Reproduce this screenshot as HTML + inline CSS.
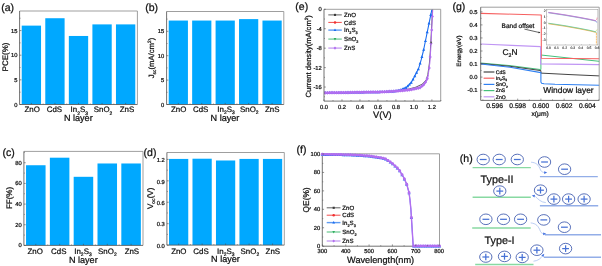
<!DOCTYPE html><html><head><meta charset="utf-8"><style>html,body{margin:0;padding:0;background:#fff}svg{display:block;filter:blur(0.35px)}</style></head><body><svg width="602" height="266" viewBox="0 0 602 266" font-family="'Liberation Sans', sans-serif" text-rendering="geometricPrecision">
<rect width="602" height="266" fill="#fff"/>
<rect x="21.72" y="25.62" width="19.32" height="78.88" fill="#00a8ff"/>
<text x="32.13" y="112.4" font-size="7.9" text-anchor="middle" fill="#111111" stroke="#111111" stroke-width="0.24">ZnO</text>
<line x1="31.38" y1="104.5" x2="31.38" y2="102.9" stroke="#4a4a4a" stroke-width="0.6"/>
<line x1="43.16" y1="104.5" x2="43.16" y2="103.5" stroke="#4a4a4a" stroke-width="0.5"/>
<rect x="45.28" y="18.23" width="19.32" height="86.27" fill="#00a8ff"/>
<text x="54.44" y="112.4" font-size="7.9" text-anchor="middle" fill="#111111" stroke="#111111" stroke-width="0.24">CdS</text>
<line x1="54.94" y1="104.5" x2="54.94" y2="102.9" stroke="#4a4a4a" stroke-width="0.6"/>
<line x1="66.72" y1="104.5" x2="66.72" y2="103.5" stroke="#4a4a4a" stroke-width="0.5"/>
<rect x="68.84" y="35.97" width="19.32" height="68.53" fill="#00a8ff"/>
<text x="79.3" y="112.4" font-size="7.9" text-anchor="middle" fill="#111111" stroke="#111111" stroke-width="0.24">In<tspan dy="2.21" font-size="4.90">2</tspan><tspan dy="-2.21" font-size="0.40"> </tspan>S<tspan dy="2.21" font-size="4.90">3</tspan><tspan dy="-2.21" font-size="0.40"> </tspan></text>
<line x1="78.50" y1="104.5" x2="78.50" y2="102.9" stroke="#4a4a4a" stroke-width="0.6"/>
<line x1="90.28" y1="104.5" x2="90.28" y2="103.5" stroke="#4a4a4a" stroke-width="0.5"/>
<rect x="92.40" y="24.39" width="19.32" height="80.11" fill="#00a8ff"/>
<text x="103.06" y="112.4" font-size="7.9" text-anchor="middle" fill="#111111" stroke="#111111" stroke-width="0.24">SnO<tspan dy="2.21" font-size="4.90">2</tspan><tspan dy="-2.21" font-size="0.40"> </tspan></text>
<line x1="102.06" y1="104.5" x2="102.06" y2="102.9" stroke="#4a4a4a" stroke-width="0.6"/>
<line x1="113.84" y1="104.5" x2="113.84" y2="103.5" stroke="#4a4a4a" stroke-width="0.5"/>
<rect x="115.96" y="24.39" width="19.32" height="80.11" fill="#00a8ff"/>
<text x="127.02" y="112.4" font-size="7.9" text-anchor="middle" fill="#111111" stroke="#111111" stroke-width="0.24">ZnS</text>
<line x1="125.62" y1="104.5" x2="125.62" y2="102.9" stroke="#4a4a4a" stroke-width="0.6"/>
<polyline points="19.6,11.0 137.4,11.0 137.4,104.5" fill="none" stroke="#8e8e8e" stroke-width="0.85"/>
<polyline points="19.6,11.0 19.6,104.5 137.4,104.5" fill="none" stroke="#585858" stroke-width="0.85"/>
<line x1="19.6" y1="104.50" x2="21.400000000000002" y2="104.50" stroke="#4a4a4a" stroke-width="0.6"/>
<text x="17.4" y="106.5" font-size="5.8" text-anchor="end" fill="#111111" stroke="#111111" stroke-width="0.24">0</text>
<line x1="19.6" y1="79.85" x2="21.400000000000002" y2="79.85" stroke="#4a4a4a" stroke-width="0.6"/>
<text x="17.4" y="81.85" font-size="5.8" text-anchor="end" fill="#111111" stroke="#111111" stroke-width="0.24">5</text>
<line x1="19.6" y1="55.20" x2="21.400000000000002" y2="55.20" stroke="#4a4a4a" stroke-width="0.6"/>
<text x="17.4" y="57.2" font-size="5.8" text-anchor="end" fill="#111111" stroke="#111111" stroke-width="0.24">10</text>
<line x1="19.6" y1="30.55" x2="21.400000000000002" y2="30.55" stroke="#4a4a4a" stroke-width="0.6"/>
<text x="17.4" y="32.55" font-size="5.8" text-anchor="end" fill="#111111" stroke="#111111" stroke-width="0.24">15</text>
<line x1="19.6" y1="92.17" x2="20.6" y2="92.17" stroke="#4a4a4a" stroke-width="0.5"/>
<line x1="19.6" y1="67.53" x2="20.6" y2="67.53" stroke="#4a4a4a" stroke-width="0.5"/>
<line x1="19.6" y1="42.88" x2="20.6" y2="42.88" stroke="#4a4a4a" stroke-width="0.5"/>
<line x1="19.6" y1="18.23" x2="20.6" y2="18.23" stroke="#4a4a4a" stroke-width="0.5"/>
<text x="78.3" y="121.3" font-size="9.1" text-anchor="middle" fill="#111111" stroke="#111111" stroke-width="0.24">N layer</text>
<text x="7.8" y="57" font-size="8.0" text-anchor="middle" fill="#111111" stroke="#111111" stroke-width="0.24" transform="rotate(-90 7.8 57)">PCE(%)</text>
<text x="1.2" y="10.8" font-size="10.5" text-anchor="start" fill="#111111" stroke="#111111" stroke-width="0.24">(a)</text>
<rect x="168.71" y="20.56" width="19.22" height="83.94" fill="#00a8ff"/>
<text x="178.72" y="112.0" font-size="7.9" text-anchor="middle" fill="#111111" stroke="#111111" stroke-width="0.24">ZnO</text>
<line x1="178.32" y1="104.5" x2="178.32" y2="102.9" stroke="#4a4a4a" stroke-width="0.6"/>
<line x1="190.04" y1="104.5" x2="190.04" y2="103.5" stroke="#4a4a4a" stroke-width="0.5"/>
<rect x="192.15" y="20.56" width="19.22" height="83.94" fill="#00a8ff"/>
<text x="200.66" y="112.0" font-size="7.9" text-anchor="middle" fill="#111111" stroke="#111111" stroke-width="0.24">CdS</text>
<line x1="201.76" y1="104.5" x2="201.76" y2="102.9" stroke="#4a4a4a" stroke-width="0.6"/>
<line x1="213.48" y1="104.5" x2="213.48" y2="103.5" stroke="#4a4a4a" stroke-width="0.5"/>
<rect x="215.59" y="20.56" width="19.22" height="83.94" fill="#00a8ff"/>
<text x="226.0" y="112.0" font-size="7.9" text-anchor="middle" fill="#111111" stroke="#111111" stroke-width="0.24">In<tspan dy="2.21" font-size="4.90">2</tspan><tspan dy="-2.21" font-size="0.40"> </tspan>S<tspan dy="2.21" font-size="4.90">3</tspan><tspan dy="-2.21" font-size="0.40"> </tspan></text>
<line x1="225.20" y1="104.5" x2="225.20" y2="102.9" stroke="#4a4a4a" stroke-width="0.6"/>
<line x1="236.92" y1="104.5" x2="236.92" y2="103.5" stroke="#4a4a4a" stroke-width="0.5"/>
<rect x="239.03" y="19.10" width="19.22" height="85.40" fill="#00a8ff"/>
<text x="249.34" y="112.0" font-size="7.9" text-anchor="middle" fill="#111111" stroke="#111111" stroke-width="0.24">SnO<tspan dy="2.21" font-size="4.90">2</tspan><tspan dy="-2.21" font-size="0.40"> </tspan></text>
<line x1="248.64" y1="104.5" x2="248.64" y2="102.9" stroke="#4a4a4a" stroke-width="0.6"/>
<line x1="260.36" y1="104.5" x2="260.36" y2="103.5" stroke="#4a4a4a" stroke-width="0.5"/>
<rect x="262.47" y="20.56" width="19.22" height="83.94" fill="#00a8ff"/>
<text x="272.28" y="112.0" font-size="7.9" text-anchor="middle" fill="#111111" stroke="#111111" stroke-width="0.24">ZnS</text>
<line x1="272.08" y1="104.5" x2="272.08" y2="102.9" stroke="#4a4a4a" stroke-width="0.6"/>
<polyline points="166.6,11.5 283.8,11.5 283.8,104.5" fill="none" stroke="#8e8e8e" stroke-width="0.85"/>
<polyline points="166.6,11.5 166.6,104.5 283.8,104.5" fill="none" stroke="#585858" stroke-width="0.85"/>
<line x1="166.6" y1="104.50" x2="168.4" y2="104.50" stroke="#4a4a4a" stroke-width="0.6"/>
<text x="164.2" y="106.5" font-size="5.8" text-anchor="end" fill="#111111" stroke="#111111" stroke-width="0.24">0</text>
<line x1="166.6" y1="80.10" x2="168.4" y2="80.10" stroke="#4a4a4a" stroke-width="0.6"/>
<text x="164.2" y="82.1" font-size="5.8" text-anchor="end" fill="#111111" stroke="#111111" stroke-width="0.24">5</text>
<line x1="166.6" y1="55.70" x2="168.4" y2="55.70" stroke="#4a4a4a" stroke-width="0.6"/>
<text x="164.2" y="57.7" font-size="5.8" text-anchor="end" fill="#111111" stroke="#111111" stroke-width="0.24">10</text>
<line x1="166.6" y1="31.30" x2="168.4" y2="31.30" stroke="#4a4a4a" stroke-width="0.6"/>
<text x="164.2" y="33.3" font-size="5.8" text-anchor="end" fill="#111111" stroke="#111111" stroke-width="0.24">15</text>
<line x1="166.6" y1="92.30" x2="167.6" y2="92.30" stroke="#4a4a4a" stroke-width="0.5"/>
<line x1="166.6" y1="67.90" x2="167.6" y2="67.90" stroke="#4a4a4a" stroke-width="0.5"/>
<line x1="166.6" y1="43.50" x2="167.6" y2="43.50" stroke="#4a4a4a" stroke-width="0.5"/>
<line x1="166.6" y1="19.10" x2="167.6" y2="19.10" stroke="#4a4a4a" stroke-width="0.5"/>
<text x="225" y="120.9" font-size="9.1" text-anchor="middle" fill="#111111" stroke="#111111" stroke-width="0.24">N layer</text>
<text x="153.9" y="58" font-size="7.7" text-anchor="middle" fill="#111111" stroke="#111111" stroke-width="0.24" transform="rotate(-90 153.9 58)">J<tspan dy="2.16" font-size="4.77">sc</tspan><tspan dy="-2.16" font-size="0.39"> </tspan>(mA/cm<tspan dy="-2.93" font-size="4.77">2</tspan><tspan dy="2.93" font-size="0.39"> </tspan>)</text>
<text x="145.2" y="11.0" font-size="10.5" text-anchor="start" fill="#111111" stroke="#111111" stroke-width="0.24">(b)</text>
<rect x="26.04" y="165.24" width="19.53" height="80.16" fill="#00a8ff"/>
<text x="35.21" y="254.1" font-size="7.9" text-anchor="middle" fill="#111111" stroke="#111111" stroke-width="0.24">ZnO</text>
<line x1="35.81" y1="245.4" x2="35.81" y2="243.8" stroke="#4a4a4a" stroke-width="0.6"/>
<line x1="47.72" y1="245.4" x2="47.72" y2="244.4" stroke="#4a4a4a" stroke-width="0.5"/>
<rect x="49.86" y="157.70" width="19.53" height="87.70" fill="#00a8ff"/>
<text x="58.73" y="254.1" font-size="7.9" text-anchor="middle" fill="#111111" stroke="#111111" stroke-width="0.24">CdS</text>
<line x1="59.63" y1="245.4" x2="59.63" y2="243.8" stroke="#4a4a4a" stroke-width="0.6"/>
<line x1="71.54" y1="245.4" x2="71.54" y2="244.4" stroke="#4a4a4a" stroke-width="0.5"/>
<rect x="73.68" y="176.81" width="19.53" height="68.59" fill="#00a8ff"/>
<text x="82.95" y="254.1" font-size="7.9" text-anchor="middle" fill="#111111" stroke="#111111" stroke-width="0.24">In<tspan dy="2.21" font-size="4.90">2</tspan><tspan dy="-2.21" font-size="0.40"> </tspan>S<tspan dy="2.21" font-size="4.90">3</tspan><tspan dy="-2.21" font-size="0.40"> </tspan></text>
<line x1="83.45" y1="245.4" x2="83.45" y2="243.8" stroke="#4a4a4a" stroke-width="0.6"/>
<line x1="95.36" y1="245.4" x2="95.36" y2="244.4" stroke="#4a4a4a" stroke-width="0.5"/>
<rect x="97.50" y="163.48" width="19.53" height="81.92" fill="#00a8ff"/>
<text x="107.37" y="254.1" font-size="7.9" text-anchor="middle" fill="#111111" stroke="#111111" stroke-width="0.24">SnO<tspan dy="2.21" font-size="4.90">2</tspan><tspan dy="-2.21" font-size="0.40"> </tspan></text>
<line x1="107.27" y1="245.4" x2="107.27" y2="243.8" stroke="#4a4a4a" stroke-width="0.6"/>
<line x1="119.18" y1="245.4" x2="119.18" y2="244.4" stroke="#4a4a4a" stroke-width="0.5"/>
<rect x="121.32" y="163.48" width="19.53" height="81.92" fill="#00a8ff"/>
<text x="131.89" y="254.1" font-size="7.9" text-anchor="middle" fill="#111111" stroke="#111111" stroke-width="0.24">ZnS</text>
<line x1="131.09" y1="245.4" x2="131.09" y2="243.8" stroke="#4a4a4a" stroke-width="0.6"/>
<polyline points="23.9,151.4 143.0,151.4 143.0,245.4" fill="none" stroke="#8e8e8e" stroke-width="0.85"/>
<polyline points="23.9,151.4 23.9,245.4 143.0,245.4" fill="none" stroke="#585858" stroke-width="0.85"/>
<line x1="23.9" y1="245.40" x2="25.7" y2="245.40" stroke="#4a4a4a" stroke-width="0.6"/>
<text x="21.8" y="247.4" font-size="5.8" text-anchor="end" fill="#111111" stroke="#111111" stroke-width="0.24">0</text>
<line x1="23.9" y1="224.74" x2="25.7" y2="224.74" stroke="#4a4a4a" stroke-width="0.6"/>
<text x="21.8" y="226.74" font-size="5.8" text-anchor="end" fill="#111111" stroke="#111111" stroke-width="0.24">20</text>
<line x1="23.9" y1="204.08" x2="25.7" y2="204.08" stroke="#4a4a4a" stroke-width="0.6"/>
<text x="21.8" y="206.08" font-size="5.8" text-anchor="end" fill="#111111" stroke="#111111" stroke-width="0.24">40</text>
<line x1="23.9" y1="183.42" x2="25.7" y2="183.42" stroke="#4a4a4a" stroke-width="0.6"/>
<text x="21.8" y="185.42" font-size="5.8" text-anchor="end" fill="#111111" stroke="#111111" stroke-width="0.24">60</text>
<line x1="23.9" y1="162.76" x2="25.7" y2="162.76" stroke="#4a4a4a" stroke-width="0.6"/>
<text x="21.8" y="164.76" font-size="5.8" text-anchor="end" fill="#111111" stroke="#111111" stroke-width="0.24">80</text>
<line x1="23.9" y1="235.07" x2="24.9" y2="235.07" stroke="#4a4a4a" stroke-width="0.5"/>
<line x1="23.9" y1="214.41" x2="24.9" y2="214.41" stroke="#4a4a4a" stroke-width="0.5"/>
<line x1="23.9" y1="193.75" x2="24.9" y2="193.75" stroke="#4a4a4a" stroke-width="0.5"/>
<line x1="23.9" y1="173.09" x2="24.9" y2="173.09" stroke="#4a4a4a" stroke-width="0.5"/>
<line x1="23.9" y1="152.43" x2="24.9" y2="152.43" stroke="#4a4a4a" stroke-width="0.5"/>
<text x="83.3" y="262.8" font-size="9.1" text-anchor="middle" fill="#111111" stroke="#111111" stroke-width="0.24">N layer</text>
<text x="11.9" y="198" font-size="8.0" text-anchor="middle" fill="#111111" stroke="#111111" stroke-width="0.24" transform="rotate(-90 11.9 198)">FF(%)</text>
<text x="2.4" y="155.6" font-size="10.5" text-anchor="start" fill="#111111" stroke="#111111" stroke-width="0.24">(c)</text>
<rect x="169.01" y="158.92" width="19.25" height="86.18" fill="#00a8ff"/>
<text x="178.84" y="254.0" font-size="7.9" text-anchor="middle" fill="#111111" stroke="#111111" stroke-width="0.24">ZnO</text>
<line x1="178.64" y1="245.1" x2="178.64" y2="243.5" stroke="#4a4a4a" stroke-width="0.6"/>
<line x1="190.38" y1="245.1" x2="190.38" y2="244.1" stroke="#4a4a4a" stroke-width="0.5"/>
<rect x="192.49" y="158.71" width="19.25" height="86.39" fill="#00a8ff"/>
<text x="201.02" y="254.0" font-size="7.9" text-anchor="middle" fill="#111111" stroke="#111111" stroke-width="0.24">CdS</text>
<line x1="202.12" y1="245.1" x2="202.12" y2="243.5" stroke="#4a4a4a" stroke-width="0.6"/>
<line x1="213.86" y1="245.1" x2="213.86" y2="244.1" stroke="#4a4a4a" stroke-width="0.5"/>
<rect x="215.97" y="160.49" width="19.25" height="84.61" fill="#00a8ff"/>
<text x="225.8" y="254.0" font-size="7.9" text-anchor="middle" fill="#111111" stroke="#111111" stroke-width="0.24">In<tspan dy="2.21" font-size="4.90">2</tspan><tspan dy="-2.21" font-size="0.40"> </tspan>S<tspan dy="2.21" font-size="4.90">3</tspan><tspan dy="-2.21" font-size="0.40"> </tspan></text>
<line x1="225.60" y1="245.1" x2="225.60" y2="243.5" stroke="#4a4a4a" stroke-width="0.6"/>
<line x1="237.34" y1="245.1" x2="237.34" y2="244.1" stroke="#4a4a4a" stroke-width="0.5"/>
<rect x="239.45" y="158.92" width="19.25" height="86.18" fill="#00a8ff"/>
<text x="249.88" y="254.0" font-size="7.9" text-anchor="middle" fill="#111111" stroke="#111111" stroke-width="0.24">SnO<tspan dy="2.21" font-size="4.90">2</tspan><tspan dy="-2.21" font-size="0.40"> </tspan></text>
<line x1="249.08" y1="245.1" x2="249.08" y2="243.5" stroke="#4a4a4a" stroke-width="0.6"/>
<line x1="260.82" y1="245.1" x2="260.82" y2="244.1" stroke="#4a4a4a" stroke-width="0.5"/>
<rect x="262.93" y="158.92" width="19.25" height="86.18" fill="#00a8ff"/>
<text x="272.86" y="254.0" font-size="7.9" text-anchor="middle" fill="#111111" stroke="#111111" stroke-width="0.24">ZnS</text>
<line x1="272.56" y1="245.1" x2="272.56" y2="243.5" stroke="#4a4a4a" stroke-width="0.6"/>
<polyline points="166.9,152.5 284.3,152.5 284.3,245.1" fill="none" stroke="#8e8e8e" stroke-width="0.85"/>
<polyline points="166.9,152.5 166.9,245.1 284.3,245.1" fill="none" stroke="#585858" stroke-width="0.85"/>
<line x1="166.9" y1="245.10" x2="168.70000000000002" y2="245.10" stroke="#4a4a4a" stroke-width="0.6"/>
<text x="164.8" y="247.8" font-size="5.8" text-anchor="end" fill="#111111" stroke="#111111" stroke-width="0.24">0.0</text>
<line x1="166.9" y1="223.68" x2="168.70000000000002" y2="223.68" stroke="#4a4a4a" stroke-width="0.6"/>
<text x="164.8" y="226.38" font-size="5.8" text-anchor="end" fill="#111111" stroke="#111111" stroke-width="0.24">0.3</text>
<line x1="166.9" y1="202.26" x2="168.70000000000002" y2="202.26" stroke="#4a4a4a" stroke-width="0.6"/>
<text x="164.8" y="204.96" font-size="5.8" text-anchor="end" fill="#111111" stroke="#111111" stroke-width="0.24">0.6</text>
<line x1="166.9" y1="180.84" x2="168.70000000000002" y2="180.84" stroke="#4a4a4a" stroke-width="0.6"/>
<text x="164.8" y="183.54" font-size="5.8" text-anchor="end" fill="#111111" stroke="#111111" stroke-width="0.24">0.9</text>
<line x1="166.9" y1="159.42" x2="168.70000000000002" y2="159.42" stroke="#4a4a4a" stroke-width="0.6"/>
<text x="164.8" y="162.12" font-size="5.8" text-anchor="end" fill="#111111" stroke="#111111" stroke-width="0.24">1.2</text>
<line x1="166.9" y1="234.39" x2="167.9" y2="234.39" stroke="#4a4a4a" stroke-width="0.5"/>
<line x1="166.9" y1="212.97" x2="167.9" y2="212.97" stroke="#4a4a4a" stroke-width="0.5"/>
<line x1="166.9" y1="191.55" x2="167.9" y2="191.55" stroke="#4a4a4a" stroke-width="0.5"/>
<line x1="166.9" y1="170.13" x2="167.9" y2="170.13" stroke="#4a4a4a" stroke-width="0.5"/>
<text x="225.5" y="262.1" font-size="9.1" text-anchor="middle" fill="#111111" stroke="#111111" stroke-width="0.24">N layer</text>
<text x="153.0" y="198.3" font-size="8.0" text-anchor="middle" fill="#111111" stroke="#111111" stroke-width="0.24" transform="rotate(-90 153.0 198.3)">V<tspan dy="2.24" font-size="4.96">oc</tspan><tspan dy="-2.24" font-size="0.40"> </tspan>(V)</text>
<text x="143.6" y="155.5" font-size="10.5" text-anchor="start" fill="#111111" stroke="#111111" stroke-width="0.24">(d)</text>
<text x="295.3" y="9.6" font-size="10.5" text-anchor="start" fill="#111111" stroke="#111111" stroke-width="0.24">(e)</text>
<clipPath id="ce"><rect x="324.0" y="9.3" width="116.69999999999999" height="91.8"/></clipPath>
<g clip-path="url(#ce)">
<polyline points="324.00,92.80 350.00,92.50 380.00,92.00 395.00,91.20 406.30,89.60 411.30,88.40 415.80,87.20 422.50,84.00 426.30,79.60 427.80,74.60 429.40,63.20 430.40,50.00 432.55,9.40" fill="none" stroke="#3a3a3a" stroke-width="0.8" stroke-linejoin="round" />
<polyline points="324.00,92.80 350.00,92.50 380.00,92.00 395.00,91.20 400.60,89.90 406.30,87.60 411.00,82.90 414.70,76.30 418.50,68.80 421.30,59.40 423.60,50.00 431.90,9.40" fill="none" stroke="#1a6cf0" stroke-width="1.1" stroke-linejoin="round" />
<polygon points="324.00,91.12 322.46,93.92 325.54,93.92" fill="#1a6cf0"/>
<polygon points="325.78,91.10 324.24,93.90 327.32,93.90" fill="#1a6cf0"/>
<polygon points="327.56,91.08 326.02,93.88 329.10,93.88" fill="#1a6cf0"/>
<polygon points="329.34,91.06 327.80,93.86 330.88,93.86" fill="#1a6cf0"/>
<polygon points="331.12,91.04 329.58,93.84 332.66,93.84" fill="#1a6cf0"/>
<polygon points="332.90,91.02 331.36,93.82 334.44,93.82" fill="#1a6cf0"/>
<polygon points="334.68,91.00 333.14,93.80 336.22,93.80" fill="#1a6cf0"/>
<polygon points="336.46,90.98 334.92,93.78 338.00,93.78" fill="#1a6cf0"/>
<polygon points="338.24,90.96 336.70,93.76 339.78,93.76" fill="#1a6cf0"/>
<polygon points="340.02,90.94 338.48,93.74 341.56,93.74" fill="#1a6cf0"/>
<polygon points="341.80,90.91 340.26,93.71 343.34,93.71" fill="#1a6cf0"/>
<polygon points="343.58,90.89 342.04,93.69 345.12,93.69" fill="#1a6cf0"/>
<polygon points="345.36,90.87 343.82,93.67 346.90,93.67" fill="#1a6cf0"/>
<polygon points="347.14,90.85 345.60,93.65 348.68,93.65" fill="#1a6cf0"/>
<polygon points="348.92,90.83 347.38,93.63 350.46,93.63" fill="#1a6cf0"/>
<polygon points="350.70,90.81 349.16,93.61 352.24,93.61" fill="#1a6cf0"/>
<polygon points="352.48,90.78 350.94,93.58 354.02,93.58" fill="#1a6cf0"/>
<polygon points="354.26,90.75 352.72,93.55 355.80,93.55" fill="#1a6cf0"/>
<polygon points="356.04,90.72 354.50,93.52 357.58,93.52" fill="#1a6cf0"/>
<polygon points="357.82,90.69 356.28,93.49 359.36,93.49" fill="#1a6cf0"/>
<polygon points="359.60,90.66 358.06,93.46 361.14,93.46" fill="#1a6cf0"/>
<polygon points="361.38,90.63 359.84,93.43 362.92,93.43" fill="#1a6cf0"/>
<polygon points="363.16,90.60 361.62,93.40 364.70,93.40" fill="#1a6cf0"/>
<polygon points="364.94,90.57 363.40,93.37 366.48,93.37" fill="#1a6cf0"/>
<polygon points="366.72,90.54 365.18,93.34 368.26,93.34" fill="#1a6cf0"/>
<polygon points="368.50,90.51 366.96,93.31 370.04,93.31" fill="#1a6cf0"/>
<polygon points="370.28,90.48 368.74,93.28 371.82,93.28" fill="#1a6cf0"/>
<polygon points="372.06,90.45 370.52,93.25 373.60,93.25" fill="#1a6cf0"/>
<polygon points="373.84,90.42 372.30,93.22 375.38,93.22" fill="#1a6cf0"/>
<polygon points="375.62,90.39 374.08,93.19 377.16,93.19" fill="#1a6cf0"/>
<polygon points="377.40,90.36 375.86,93.16 378.94,93.16" fill="#1a6cf0"/>
<polygon points="379.18,90.33 377.64,93.13 380.72,93.13" fill="#1a6cf0"/>
<polygon points="380.96,90.27 379.42,93.07 382.50,93.07" fill="#1a6cf0"/>
<polygon points="382.74,90.17 381.20,92.97 384.28,92.97" fill="#1a6cf0"/>
<polygon points="384.52,90.08 382.98,92.88 386.06,92.88" fill="#1a6cf0"/>
<polygon points="386.30,89.98 384.76,92.78 387.84,92.78" fill="#1a6cf0"/>
<polygon points="388.08,89.89 386.54,92.69 389.62,92.69" fill="#1a6cf0"/>
<polygon points="389.86,89.79 388.32,92.59 391.40,92.59" fill="#1a6cf0"/>
<polygon points="391.64,89.70 390.10,92.50 393.18,92.50" fill="#1a6cf0"/>
<polygon points="393.42,89.60 391.88,92.40 394.96,92.40" fill="#1a6cf0"/>
<polygon points="395.20,89.47 393.66,92.27 396.74,92.27" fill="#1a6cf0"/>
<polygon points="396.98,89.06 395.44,91.86 398.52,91.86" fill="#1a6cf0"/>
<polygon points="398.76,88.65 397.22,91.45 400.30,91.45" fill="#1a6cf0"/>
<polygon points="400.54,88.23 399.00,91.03 402.08,91.03" fill="#1a6cf0"/>
<polygon points="402.32,87.53 400.78,90.33 403.86,90.33" fill="#1a6cf0"/>
<polygon points="404.10,86.81 402.56,89.61 405.64,89.61" fill="#1a6cf0"/>
<polygon points="405.88,86.09 404.34,88.89 407.42,88.89" fill="#1a6cf0"/>
<polygon points="407.66,84.56 406.12,87.36 409.20,87.36" fill="#1a6cf0"/>
<polygon points="409.44,82.78 407.90,85.58 410.98,85.58" fill="#1a6cf0"/>
<polygon points="411.22,80.83 409.68,83.63 412.76,83.63" fill="#1a6cf0"/>
<polygon points="413.00,77.65 411.46,80.45 414.54,80.45" fill="#1a6cf0"/>
<polygon points="414.78,74.46 413.24,77.26 416.32,77.26" fill="#1a6cf0"/>
<polygon points="416.56,70.95 415.02,73.75 418.10,73.75" fill="#1a6cf0"/>
<polygon points="418.34,67.44 416.80,70.24 419.88,70.24" fill="#1a6cf0"/>
<polygon points="420.12,61.68 418.58,64.48 421.66,64.48" fill="#1a6cf0"/>
<polygon points="421.90,55.27 420.36,58.07 423.44,58.07" fill="#1a6cf0"/>
<polygon points="423.68,47.93 422.14,50.73 425.22,50.73" fill="#1a6cf0"/>
<polygon points="425.46,39.22 423.92,42.02 427.00,42.02" fill="#1a6cf0"/>
<polygon points="427.24,30.51 425.70,33.31 428.78,33.31" fill="#1a6cf0"/>
<polygon points="429.02,21.81 427.48,24.61 430.56,24.61" fill="#1a6cf0"/>
<polygon points="430.80,13.10 429.26,15.90 432.34,15.90" fill="#1a6cf0"/>
<polyline points="324.00,92.80 350.00,92.50 380.00,92.00 395.00,91.20 406.30,90.20 411.30,89.50 416.00,88.60 420.30,87.50 424.20,84.30 427.00,79.60 428.30,74.60" fill="none" stroke="#b26ef0" stroke-width="1.5" stroke-linejoin="round" />
<polygon points="324.00,90.92 325.65,92.80 324.00,94.67 322.35,92.80" fill="#b26ef0"/>
<polygon points="325.78,90.90 327.43,92.78 325.78,94.65 324.13,92.78" fill="#b26ef0"/>
<polygon points="327.56,90.88 329.21,92.76 327.56,94.63 325.91,92.76" fill="#b26ef0"/>
<polygon points="329.34,90.86 330.99,92.74 329.34,94.61 327.69,92.74" fill="#b26ef0"/>
<polygon points="331.12,90.84 332.77,92.72 331.12,94.59 329.47,92.72" fill="#b26ef0"/>
<polygon points="332.90,90.82 334.55,92.70 332.90,94.57 331.25,92.70" fill="#b26ef0"/>
<polygon points="334.68,90.80 336.33,92.68 334.68,94.55 333.03,92.68" fill="#b26ef0"/>
<polygon points="336.46,90.78 338.11,92.66 336.46,94.53 334.81,92.66" fill="#b26ef0"/>
<polygon points="338.24,90.76 339.89,92.64 338.24,94.51 336.59,92.64" fill="#b26ef0"/>
<polygon points="340.02,90.74 341.67,92.62 340.02,94.49 338.37,92.62" fill="#b26ef0"/>
<polygon points="341.80,90.72 343.45,92.59 341.80,94.47 340.15,92.59" fill="#b26ef0"/>
<polygon points="343.58,90.70 345.23,92.57 343.58,94.45 341.93,92.57" fill="#b26ef0"/>
<polygon points="345.36,90.68 347.01,92.55 345.36,94.43 343.71,92.55" fill="#b26ef0"/>
<polygon points="347.14,90.66 348.79,92.53 347.14,94.41 345.49,92.53" fill="#b26ef0"/>
<polygon points="348.92,90.64 350.57,92.51 348.92,94.39 347.27,92.51" fill="#b26ef0"/>
<polygon points="350.70,90.61 352.35,92.49 350.70,94.36 349.05,92.49" fill="#b26ef0"/>
<polygon points="352.48,90.58 354.13,92.46 352.48,94.33 350.83,92.46" fill="#b26ef0"/>
<polygon points="354.26,90.55 355.91,92.43 354.26,94.30 352.61,92.43" fill="#b26ef0"/>
<polygon points="356.04,90.52 357.69,92.40 356.04,94.27 354.39,92.40" fill="#b26ef0"/>
<polygon points="357.82,90.49 359.47,92.37 357.82,94.24 356.17,92.37" fill="#b26ef0"/>
<polygon points="359.60,90.47 361.25,92.34 359.60,94.22 357.95,92.34" fill="#b26ef0"/>
<polygon points="361.38,90.44 363.03,92.31 361.38,94.19 359.73,92.31" fill="#b26ef0"/>
<polygon points="363.16,90.41 364.81,92.28 363.16,94.16 361.51,92.28" fill="#b26ef0"/>
<polygon points="364.94,90.38 366.59,92.25 364.94,94.13 363.29,92.25" fill="#b26ef0"/>
<polygon points="366.72,90.35 368.37,92.22 366.72,94.10 365.07,92.22" fill="#b26ef0"/>
<polygon points="368.50,90.32 370.15,92.19 368.50,94.07 366.85,92.19" fill="#b26ef0"/>
<polygon points="370.28,90.29 371.93,92.16 370.28,94.04 368.63,92.16" fill="#b26ef0"/>
<polygon points="372.06,90.26 373.71,92.13 372.06,94.01 370.41,92.13" fill="#b26ef0"/>
<polygon points="373.84,90.23 375.49,92.10 373.84,93.98 372.19,92.10" fill="#b26ef0"/>
<polygon points="375.62,90.20 377.27,92.07 375.62,93.95 373.97,92.07" fill="#b26ef0"/>
<polygon points="377.40,90.17 379.05,92.04 377.40,93.92 375.75,92.04" fill="#b26ef0"/>
<polygon points="379.18,90.14 380.83,92.01 379.18,93.89 377.53,92.01" fill="#b26ef0"/>
<polygon points="380.96,90.07 382.61,91.95 380.96,93.82 379.31,91.95" fill="#b26ef0"/>
<polygon points="382.74,89.98 384.39,91.85 382.74,93.73 381.09,91.85" fill="#b26ef0"/>
<polygon points="384.52,89.88 386.17,91.76 384.52,93.63 382.87,91.76" fill="#b26ef0"/>
<polygon points="386.30,89.79 387.95,91.66 386.30,93.54 384.65,91.66" fill="#b26ef0"/>
<polygon points="388.08,89.69 389.73,91.57 388.08,93.44 386.43,91.57" fill="#b26ef0"/>
<polygon points="389.86,89.60 391.51,91.47 389.86,93.35 388.21,91.47" fill="#b26ef0"/>
<polygon points="391.64,89.50 393.29,91.38 391.64,93.25 389.99,91.38" fill="#b26ef0"/>
<polygon points="393.42,89.41 395.07,91.28 393.42,93.16 391.77,91.28" fill="#b26ef0"/>
<polygon points="395.20,89.31 396.85,91.18 395.20,93.06 393.55,91.18" fill="#b26ef0"/>
<polygon points="396.98,89.15 398.63,91.02 396.98,92.90 395.33,91.02" fill="#b26ef0"/>
<polygon points="398.76,88.99 400.41,90.87 398.76,92.74 397.11,90.87" fill="#b26ef0"/>
<polygon points="400.54,88.83 402.19,90.71 400.54,92.58 398.89,90.71" fill="#b26ef0"/>
<polygon points="402.32,88.68 403.97,90.55 402.32,92.43 400.67,90.55" fill="#b26ef0"/>
<polygon points="404.10,88.52 405.75,90.39 404.10,92.27 402.45,90.39" fill="#b26ef0"/>
<polygon points="405.88,88.36 407.53,90.24 405.88,92.11 404.23,90.24" fill="#b26ef0"/>
<polygon points="407.66,88.13 409.31,90.01 407.66,91.88 406.01,90.01" fill="#b26ef0"/>
<polygon points="409.44,87.89 411.09,89.76 409.44,91.64 407.79,89.76" fill="#b26ef0"/>
<polygon points="411.22,87.64 412.87,89.51 411.22,91.39 409.57,89.51" fill="#b26ef0"/>
<polygon points="413.00,87.30 414.65,89.17 413.00,91.05 411.35,89.17" fill="#b26ef0"/>
<polygon points="414.78,86.96 416.43,88.83 414.78,90.71 413.13,88.83" fill="#b26ef0"/>
<polygon points="416.56,86.58 418.21,88.46 416.56,90.33 414.91,88.46" fill="#b26ef0"/>
<polygon points="418.34,86.13 419.99,88.00 418.34,89.88 416.69,88.00" fill="#b26ef0"/>
<polygon points="420.12,85.67 421.77,87.55 420.12,89.42 418.47,87.55" fill="#b26ef0"/>
<polygon points="421.90,84.31 423.55,86.19 421.90,88.06 420.25,86.19" fill="#b26ef0"/>
<polygon points="423.68,82.85 425.33,84.73 423.68,86.60 422.03,84.73" fill="#b26ef0"/>
<polygon points="425.46,80.31 427.11,82.19 425.46,84.06 423.81,82.19" fill="#b26ef0"/>
<polygon points="427.24,76.80 428.89,78.68 427.24,80.55 425.59,78.68" fill="#b26ef0"/>
<polyline points="428.30,74.60 429.80,63.20 430.70,50.00 432.75,9.40" fill="none" stroke="#b26ef0" stroke-width="1.0" stroke-linejoin="round" />
<polygon points="429.30,66.25 430.84,68.00 429.30,69.75 427.76,68.00" fill="#b26ef0"/>
<polygon points="430.20,55.25 431.74,57.00 430.20,58.75 428.66,57.00" fill="#b26ef0"/>
<polygon points="431.00,41.75 432.54,43.50 431.00,45.25 429.46,43.50" fill="#b26ef0"/>
<polygon points="431.70,28.25 433.24,30.00 431.70,31.75 430.16,30.00" fill="#b26ef0"/>
<polygon points="432.40,14.75 433.94,16.50 432.40,18.25 430.86,16.50" fill="#b26ef0"/>
<rect x="430.35" y="41.65" width="1.70" height="1.70" fill="#5a5a5a"/>
</g>
<polyline points="324.0,9.3 440.7,9.3 440.7,101.1" fill="none" stroke="#8e8e8e" stroke-width="0.85"/>
<polyline points="324.0,9.3 324.0,101.1 440.7,101.1" fill="none" stroke="#585858" stroke-width="0.85"/>
<line x1="324.0" y1="9.30" x2="325.8" y2="9.30" stroke="#4a4a4a" stroke-width="0.6"/>
<text x="321.8" y="11.3" font-size="5.8" text-anchor="end" fill="#111111" stroke="#111111" stroke-width="0.24">0</text>
<line x1="324.0" y1="28.74" x2="325.8" y2="28.74" stroke="#4a4a4a" stroke-width="0.6"/>
<text x="321.8" y="30.74" font-size="5.8" text-anchor="end" fill="#111111" stroke="#111111" stroke-width="0.24">-4</text>
<line x1="324.0" y1="48.18" x2="325.8" y2="48.18" stroke="#4a4a4a" stroke-width="0.6"/>
<text x="321.8" y="50.18" font-size="5.8" text-anchor="end" fill="#111111" stroke="#111111" stroke-width="0.24">-8</text>
<line x1="324.0" y1="67.62" x2="325.8" y2="67.62" stroke="#4a4a4a" stroke-width="0.6"/>
<text x="321.8" y="69.62" font-size="5.8" text-anchor="end" fill="#111111" stroke="#111111" stroke-width="0.24">-12</text>
<line x1="324.0" y1="87.06" x2="325.8" y2="87.06" stroke="#4a4a4a" stroke-width="0.6"/>
<text x="321.8" y="89.06" font-size="5.8" text-anchor="end" fill="#111111" stroke="#111111" stroke-width="0.24">-16</text>
<line x1="324.0" y1="19.02" x2="325.0" y2="19.02" stroke="#4a4a4a" stroke-width="0.5"/>
<line x1="324.0" y1="38.46" x2="325.0" y2="38.46" stroke="#4a4a4a" stroke-width="0.5"/>
<line x1="324.0" y1="57.90" x2="325.0" y2="57.90" stroke="#4a4a4a" stroke-width="0.5"/>
<line x1="324.0" y1="77.34" x2="325.0" y2="77.34" stroke="#4a4a4a" stroke-width="0.5"/>
<line x1="324.0" y1="96.78" x2="325.0" y2="96.78" stroke="#4a4a4a" stroke-width="0.5"/>
<line x1="324.00" y1="101.1" x2="324.00" y2="99.3" stroke="#4a4a4a" stroke-width="0.55"/>
<text x="324.0" y="108.6" font-size="5.8" text-anchor="middle" fill="#111111" stroke="#111111" stroke-width="0.24">0.0</text>
<line x1="332.99" y1="101.1" x2="332.99" y2="100.1" stroke="#4a4a4a" stroke-width="0.55"/>
<line x1="341.98" y1="101.1" x2="341.98" y2="99.3" stroke="#4a4a4a" stroke-width="0.55"/>
<text x="341.98" y="108.6" font-size="5.8" text-anchor="middle" fill="#111111" stroke="#111111" stroke-width="0.24">0.2</text>
<line x1="350.97" y1="101.1" x2="350.97" y2="100.1" stroke="#4a4a4a" stroke-width="0.55"/>
<line x1="359.96" y1="101.1" x2="359.96" y2="99.3" stroke="#4a4a4a" stroke-width="0.55"/>
<text x="359.96" y="108.6" font-size="5.8" text-anchor="middle" fill="#111111" stroke="#111111" stroke-width="0.24">0.4</text>
<line x1="368.95" y1="101.1" x2="368.95" y2="100.1" stroke="#4a4a4a" stroke-width="0.55"/>
<line x1="377.94" y1="101.1" x2="377.94" y2="99.3" stroke="#4a4a4a" stroke-width="0.55"/>
<text x="377.94" y="108.6" font-size="5.8" text-anchor="middle" fill="#111111" stroke="#111111" stroke-width="0.24">0.6</text>
<line x1="386.93" y1="101.1" x2="386.93" y2="100.1" stroke="#4a4a4a" stroke-width="0.55"/>
<line x1="395.92" y1="101.1" x2="395.92" y2="99.3" stroke="#4a4a4a" stroke-width="0.55"/>
<text x="395.92" y="108.6" font-size="5.8" text-anchor="middle" fill="#111111" stroke="#111111" stroke-width="0.24">0.8</text>
<line x1="404.91" y1="101.1" x2="404.91" y2="100.1" stroke="#4a4a4a" stroke-width="0.55"/>
<line x1="413.90" y1="101.1" x2="413.90" y2="99.3" stroke="#4a4a4a" stroke-width="0.55"/>
<text x="413.9" y="108.6" font-size="5.8" text-anchor="middle" fill="#111111" stroke="#111111" stroke-width="0.24">1.0</text>
<line x1="422.89" y1="101.1" x2="422.89" y2="100.1" stroke="#4a4a4a" stroke-width="0.55"/>
<line x1="431.88" y1="101.1" x2="431.88" y2="99.3" stroke="#4a4a4a" stroke-width="0.55"/>
<text x="431.88" y="108.6" font-size="5.8" text-anchor="middle" fill="#111111" stroke="#111111" stroke-width="0.24">1.2</text>
<line x1="440.87" y1="101.1" x2="440.87" y2="100.1" stroke="#4a4a4a" stroke-width="0.55"/>
<text x="382.4" y="118.3" font-size="9.3" text-anchor="middle" fill="#111111" stroke="#111111" stroke-width="0.24">V(V)</text>
<text x="311.2" y="56.3" font-size="7.55" text-anchor="middle" fill="#111111" stroke="#111111" stroke-width="0.24" transform="rotate(-90 311.2 56.3)">Current density(mA/cm<tspan dy="-2.87" font-size="4.68">2</tspan><tspan dy="2.87" font-size="0.38"> </tspan>)</text>
<line x1="328.3" y1="14.90" x2="341.8" y2="14.90" stroke="#3a3a3a" stroke-width="0.8"/>
<rect x="333.94" y="13.84" width="2.12" height="2.12" fill="#3a3a3a"/>
<text x="344.1" y="17.1" font-size="6.1" text-anchor="start" fill="#111111" stroke="#111111" stroke-width="0.24">ZnO</text>
<line x1="328.3" y1="22.40" x2="341.8" y2="22.40" stroke="#f24a4a" stroke-width="1.0"/>
<circle cx="335.00" cy="22.40" r="1.25" fill="#f03030"/>
<text x="344.1" y="24.6" font-size="6.1" text-anchor="start" fill="#111111" stroke="#111111" stroke-width="0.24">CdS</text>
<line x1="328.3" y1="30.10" x2="341.8" y2="30.10" stroke="#5f9cf2" stroke-width="1.4"/>
<polygon points="335.00,28.60 333.62,31.10 336.38,31.10" fill="#1a6cf0"/>
<text x="344.1" y="32.3" font-size="6.1" text-anchor="start" fill="#111111" stroke="#111111" stroke-width="0.24">In<tspan dy="1.71" font-size="3.78">2</tspan><tspan dy="-1.71" font-size="0.30"> </tspan>S<tspan dy="1.71" font-size="3.78">3</tspan><tspan dy="-1.71" font-size="0.30"> </tspan></text>
<line x1="328.3" y1="39.10" x2="341.8" y2="39.10" stroke="#7fd0a0" stroke-width="1.4"/>
<polygon points="335.00,40.60 333.62,38.10 336.38,38.10" fill="#2fae5f"/>
<text x="344.1" y="41.3" font-size="6.1" text-anchor="start" fill="#111111" stroke="#111111" stroke-width="0.24">SnO<tspan dy="1.71" font-size="3.78">2</tspan><tspan dy="-1.71" font-size="0.30"> </tspan></text>
<line x1="328.3" y1="48.10" x2="341.8" y2="48.10" stroke="#c8a4f2" stroke-width="1.4"/>
<polygon points="335.00,46.54 336.38,48.10 335.00,49.66 333.62,48.10" fill="#b26ef0"/>
<text x="344.1" y="50.3" font-size="6.1" text-anchor="start" fill="#111111" stroke="#111111" stroke-width="0.24">ZnS</text>
<text x="296.6" y="153.2" font-size="10.5" text-anchor="start" fill="#111111" stroke="#111111" stroke-width="0.24">(f)</text>
<polyline points="322.3,153.8 439.5,153.8 439.5,246.2" fill="none" stroke="#8e8e8e" stroke-width="0.85"/>
<polyline points="322.3,153.8 322.3,246.2 439.5,246.2" fill="none" stroke="#585858" stroke-width="0.85"/>
<polyline points="322.30,154.65 345.00,154.95 360.00,155.55 370.00,156.45 375.00,157.15 385.00,158.85 392.50,163.85 399.10,170.05 403.80,177.95 406.60,184.15 409.00,192.65 410.00,200.35 410.90,209.65 413.20,246.35 439.90,246.35" fill="none" stroke="#1a6cf0" stroke-width="0.8" stroke-linejoin="round" />
<polygon points="322.30,152.85 320.65,155.85 323.95,155.85" fill="#1a6cf0"/>
<polygon points="324.65,152.88 323.00,155.88 326.30,155.88" fill="#1a6cf0"/>
<polygon points="326.99,152.91 325.34,155.91 328.64,155.91" fill="#1a6cf0"/>
<polygon points="329.34,152.94 327.69,155.94 330.99,155.94" fill="#1a6cf0"/>
<polygon points="331.68,152.97 330.03,155.97 333.33,155.97" fill="#1a6cf0"/>
<polygon points="334.03,153.00 332.38,156.00 335.68,156.00" fill="#1a6cf0"/>
<polygon points="336.37,153.04 334.72,156.04 338.02,156.04" fill="#1a6cf0"/>
<polygon points="338.72,153.07 337.07,156.07 340.37,156.07" fill="#1a6cf0"/>
<polygon points="341.06,153.10 339.41,156.10 342.71,156.10" fill="#1a6cf0"/>
<polygon points="343.41,153.13 341.76,156.13 345.06,156.13" fill="#1a6cf0"/>
<polygon points="345.75,153.18 344.10,156.18 347.40,156.18" fill="#1a6cf0"/>
<polygon points="348.10,153.27 346.45,156.27 349.75,156.27" fill="#1a6cf0"/>
<polygon points="350.44,153.37 348.79,156.37 352.09,156.37" fill="#1a6cf0"/>
<polygon points="352.79,153.46 351.14,156.46 354.44,156.46" fill="#1a6cf0"/>
<polygon points="355.13,153.56 353.48,156.56 356.78,156.56" fill="#1a6cf0"/>
<polygon points="357.48,153.65 355.83,156.65 359.13,156.65" fill="#1a6cf0"/>
<polygon points="359.82,153.74 358.17,156.74 361.47,156.74" fill="#1a6cf0"/>
<polygon points="362.17,153.94 360.52,156.94 363.82,156.94" fill="#1a6cf0"/>
<polygon points="364.51,154.16 362.86,157.16 366.16,157.16" fill="#1a6cf0"/>
<polygon points="366.86,154.37 365.21,157.37 368.51,157.37" fill="#1a6cf0"/>
<polygon points="369.20,154.58 367.55,157.58 370.85,157.58" fill="#1a6cf0"/>
<polygon points="371.55,154.87 369.90,157.87 373.20,157.87" fill="#1a6cf0"/>
<polygon points="373.89,155.19 372.24,158.19 375.54,158.19" fill="#1a6cf0"/>
<polygon points="376.24,155.56 374.59,158.56 377.89,158.56" fill="#1a6cf0"/>
<polygon points="378.58,155.96 376.93,158.96 380.23,158.96" fill="#1a6cf0"/>
<polygon points="380.93,156.36 379.28,159.36 382.58,159.36" fill="#1a6cf0"/>
<polygon points="383.27,156.76 381.62,159.76 384.92,159.76" fill="#1a6cf0"/>
<polygon points="385.62,157.46 383.97,160.46 387.27,160.46" fill="#1a6cf0"/>
<polygon points="387.96,159.02 386.31,162.02 389.61,162.02" fill="#1a6cf0"/>
<polygon points="390.31,160.59 388.66,163.59 391.96,163.59" fill="#1a6cf0"/>
<polygon points="392.65,162.19 391.00,165.19 394.30,165.19" fill="#1a6cf0"/>
<polygon points="395.00,164.39 393.35,167.39 396.65,167.39" fill="#1a6cf0"/>
<polygon points="397.34,166.60 395.69,169.60 398.99,169.60" fill="#1a6cf0"/>
<polygon points="399.69,169.23 398.04,172.23 401.34,172.23" fill="#1a6cf0"/>
<polygon points="402.03,173.17 400.38,176.17 403.68,176.17" fill="#1a6cf0"/>
<polygon points="404.38,177.42 402.73,180.42 406.03,180.42" fill="#1a6cf0"/>
<polygon points="406.72,182.78 405.07,185.78 408.37,185.78" fill="#1a6cf0"/>
<polygon points="409.07,191.35 407.42,194.35 410.72,194.35" fill="#1a6cf0"/>
<polygon points="411.41,215.99 409.76,218.99 413.06,218.99" fill="#1a6cf0"/>
<polygon points="413.76,244.55 412.11,247.55 415.41,247.55" fill="#1a6cf0"/>
<polygon points="416.10,244.55 414.45,247.55 417.75,247.55" fill="#1a6cf0"/>
<polygon points="418.45,244.55 416.80,247.55 420.10,247.55" fill="#1a6cf0"/>
<polygon points="420.79,244.55 419.14,247.55 422.44,247.55" fill="#1a6cf0"/>
<polygon points="423.14,244.55 421.49,247.55 424.79,247.55" fill="#1a6cf0"/>
<polygon points="425.48,244.55 423.83,247.55 427.13,247.55" fill="#1a6cf0"/>
<polygon points="427.83,244.55 426.18,247.55 429.48,247.55" fill="#1a6cf0"/>
<polygon points="430.17,244.55 428.52,247.55 431.82,247.55" fill="#1a6cf0"/>
<polygon points="432.52,244.55 430.87,247.55 434.17,247.55" fill="#1a6cf0"/>
<polygon points="434.86,244.55 433.21,247.55 436.51,247.55" fill="#1a6cf0"/>
<polygon points="437.21,244.55 435.56,247.55 438.86,247.55" fill="#1a6cf0"/>
<polygon points="439.55,244.55 437.90,247.55 441.20,247.55" fill="#1a6cf0"/>
<polyline points="322.30,154.30 345.00,154.60 360.00,155.20 370.00,156.10 375.00,156.80 385.00,158.50 392.50,163.50 399.10,169.70 403.80,177.60 406.60,183.80 409.00,192.30 410.00,200.00 410.90,209.30 413.20,246.00 439.90,246.00" fill="none" stroke="#b26ef0" stroke-width="1.4" stroke-linejoin="round" />
<circle cx="322.30" cy="154.30" r="1.45" fill="#b26ef0"/>
<circle cx="324.65" cy="154.33" r="1.45" fill="#b26ef0"/>
<circle cx="326.99" cy="154.36" r="1.45" fill="#b26ef0"/>
<circle cx="329.34" cy="154.39" r="1.45" fill="#b26ef0"/>
<circle cx="331.68" cy="154.42" r="1.45" fill="#b26ef0"/>
<circle cx="334.03" cy="154.45" r="1.45" fill="#b26ef0"/>
<circle cx="336.37" cy="154.49" r="1.45" fill="#b26ef0"/>
<circle cx="338.72" cy="154.52" r="1.45" fill="#b26ef0"/>
<circle cx="341.06" cy="154.55" r="1.45" fill="#b26ef0"/>
<circle cx="343.41" cy="154.58" r="1.45" fill="#b26ef0"/>
<circle cx="345.75" cy="154.63" r="1.45" fill="#b26ef0"/>
<circle cx="348.10" cy="154.72" r="1.45" fill="#b26ef0"/>
<circle cx="350.44" cy="154.82" r="1.45" fill="#b26ef0"/>
<circle cx="352.79" cy="154.91" r="1.45" fill="#b26ef0"/>
<circle cx="355.13" cy="155.01" r="1.45" fill="#b26ef0"/>
<circle cx="357.48" cy="155.10" r="1.45" fill="#b26ef0"/>
<circle cx="359.82" cy="155.19" r="1.45" fill="#b26ef0"/>
<circle cx="362.17" cy="155.39" r="1.45" fill="#b26ef0"/>
<circle cx="364.51" cy="155.61" r="1.45" fill="#b26ef0"/>
<circle cx="366.86" cy="155.82" r="1.45" fill="#b26ef0"/>
<circle cx="369.20" cy="156.03" r="1.45" fill="#b26ef0"/>
<circle cx="371.55" cy="156.32" r="1.45" fill="#b26ef0"/>
<circle cx="373.89" cy="156.64" r="1.45" fill="#b26ef0"/>
<circle cx="376.24" cy="157.01" r="1.45" fill="#b26ef0"/>
<circle cx="378.58" cy="157.41" r="1.45" fill="#b26ef0"/>
<circle cx="380.93" cy="157.81" r="1.45" fill="#b26ef0"/>
<circle cx="383.27" cy="158.21" r="1.45" fill="#b26ef0"/>
<circle cx="385.62" cy="158.91" r="1.45" fill="#b26ef0"/>
<circle cx="387.96" cy="160.47" r="1.45" fill="#b26ef0"/>
<circle cx="390.31" cy="162.04" r="1.45" fill="#b26ef0"/>
<circle cx="392.65" cy="163.64" r="1.45" fill="#b26ef0"/>
<circle cx="395.00" cy="165.84" r="1.45" fill="#b26ef0"/>
<circle cx="397.34" cy="168.05" r="1.45" fill="#b26ef0"/>
<circle cx="399.69" cy="170.68" r="1.45" fill="#b26ef0"/>
<circle cx="402.03" cy="174.62" r="1.45" fill="#b26ef0"/>
<circle cx="404.38" cy="178.87" r="1.45" fill="#b26ef0"/>
<circle cx="406.72" cy="184.23" r="1.45" fill="#b26ef0"/>
<circle cx="409.07" cy="192.80" r="1.45" fill="#b26ef0"/>
<circle cx="411.41" cy="217.44" r="1.45" fill="#b26ef0"/>
<circle cx="413.76" cy="246.00" r="1.45" fill="#b26ef0"/>
<circle cx="416.10" cy="246.00" r="1.45" fill="#b26ef0"/>
<circle cx="418.45" cy="246.00" r="1.45" fill="#b26ef0"/>
<circle cx="420.79" cy="246.00" r="1.45" fill="#b26ef0"/>
<circle cx="423.14" cy="246.00" r="1.45" fill="#b26ef0"/>
<circle cx="425.48" cy="246.00" r="1.45" fill="#b26ef0"/>
<circle cx="427.83" cy="246.00" r="1.45" fill="#b26ef0"/>
<circle cx="430.17" cy="246.00" r="1.45" fill="#b26ef0"/>
<circle cx="432.52" cy="246.00" r="1.45" fill="#b26ef0"/>
<circle cx="434.86" cy="246.00" r="1.45" fill="#b26ef0"/>
<circle cx="437.21" cy="246.00" r="1.45" fill="#b26ef0"/>
<circle cx="439.55" cy="246.00" r="1.45" fill="#b26ef0"/>
<line x1="322.3" y1="246.20" x2="324.1" y2="246.20" stroke="#4a4a4a" stroke-width="0.6"/>
<text x="320.2" y="247.8" font-size="5.8" text-anchor="end" fill="#111111" stroke="#111111" stroke-width="0.24">0</text>
<line x1="322.3" y1="227.76" x2="324.1" y2="227.76" stroke="#4a4a4a" stroke-width="0.6"/>
<text x="320.2" y="229.76" font-size="5.8" text-anchor="end" fill="#111111" stroke="#111111" stroke-width="0.24">20</text>
<line x1="322.3" y1="209.32" x2="324.1" y2="209.32" stroke="#4a4a4a" stroke-width="0.6"/>
<text x="320.2" y="211.32" font-size="5.8" text-anchor="end" fill="#111111" stroke="#111111" stroke-width="0.24">40</text>
<line x1="322.3" y1="190.88" x2="324.1" y2="190.88" stroke="#4a4a4a" stroke-width="0.6"/>
<text x="320.2" y="192.88" font-size="5.8" text-anchor="end" fill="#111111" stroke="#111111" stroke-width="0.24">60</text>
<line x1="322.3" y1="172.44" x2="324.1" y2="172.44" stroke="#4a4a4a" stroke-width="0.6"/>
<text x="320.2" y="174.44" font-size="5.8" text-anchor="end" fill="#111111" stroke="#111111" stroke-width="0.24">80</text>
<line x1="322.3" y1="154.00" x2="324.1" y2="154.00" stroke="#4a4a4a" stroke-width="0.6"/>
<text x="320.2" y="156.0" font-size="5.8" text-anchor="end" fill="#111111" stroke="#111111" stroke-width="0.24">100</text>
<line x1="322.3" y1="237.00" x2="323.3" y2="237.00" stroke="#4a4a4a" stroke-width="0.5"/>
<line x1="322.3" y1="218.60" x2="323.3" y2="218.60" stroke="#4a4a4a" stroke-width="0.5"/>
<line x1="322.3" y1="200.20" x2="323.3" y2="200.20" stroke="#4a4a4a" stroke-width="0.5"/>
<line x1="322.3" y1="181.80" x2="323.3" y2="181.80" stroke="#4a4a4a" stroke-width="0.5"/>
<line x1="322.3" y1="163.40" x2="323.3" y2="163.40" stroke="#4a4a4a" stroke-width="0.5"/>
<line x1="322.40" y1="246.2" x2="322.40" y2="244.39999999999998" stroke="#4a4a4a" stroke-width="0.55"/>
<text x="322.4" y="253.3" font-size="5.8" text-anchor="middle" fill="#111111" stroke="#111111" stroke-width="0.24">300</text>
<line x1="334.07" y1="246.2" x2="334.07" y2="245.2" stroke="#4a4a4a" stroke-width="0.55"/>
<line x1="345.74" y1="246.2" x2="345.74" y2="244.39999999999998" stroke="#4a4a4a" stroke-width="0.55"/>
<text x="345.74" y="253.3" font-size="5.8" text-anchor="middle" fill="#111111" stroke="#111111" stroke-width="0.24">400</text>
<line x1="357.41" y1="246.2" x2="357.41" y2="245.2" stroke="#4a4a4a" stroke-width="0.55"/>
<line x1="369.08" y1="246.2" x2="369.08" y2="244.39999999999998" stroke="#4a4a4a" stroke-width="0.55"/>
<text x="369.08" y="253.3" font-size="5.8" text-anchor="middle" fill="#111111" stroke="#111111" stroke-width="0.24">500</text>
<line x1="380.75" y1="246.2" x2="380.75" y2="245.2" stroke="#4a4a4a" stroke-width="0.55"/>
<line x1="392.42" y1="246.2" x2="392.42" y2="244.39999999999998" stroke="#4a4a4a" stroke-width="0.55"/>
<text x="392.42" y="253.3" font-size="5.8" text-anchor="middle" fill="#111111" stroke="#111111" stroke-width="0.24">600</text>
<line x1="404.09" y1="246.2" x2="404.09" y2="245.2" stroke="#4a4a4a" stroke-width="0.55"/>
<line x1="415.76" y1="246.2" x2="415.76" y2="244.39999999999998" stroke="#4a4a4a" stroke-width="0.55"/>
<text x="415.76" y="253.3" font-size="5.8" text-anchor="middle" fill="#111111" stroke="#111111" stroke-width="0.24">700</text>
<line x1="427.43" y1="246.2" x2="427.43" y2="245.2" stroke="#4a4a4a" stroke-width="0.55"/>
<line x1="439.10" y1="246.2" x2="439.10" y2="244.39999999999998" stroke="#4a4a4a" stroke-width="0.55"/>
<text x="439.1" y="253.3" font-size="5.8" text-anchor="middle" fill="#111111" stroke="#111111" stroke-width="0.24">800</text>
<text x="380.6" y="263.1" font-size="9.2" text-anchor="middle" fill="#111111" stroke="#111111" stroke-width="0.24">Wavelength(nm)</text>
<text x="309.0" y="199.9" font-size="8.4" text-anchor="middle" fill="#111111" stroke="#111111" stroke-width="0.24" transform="rotate(-90 309.0 199.9)">QE(%)</text>
<line x1="326.7" y1="207.80" x2="340.5" y2="207.80" stroke="#3a3a3a" stroke-width="0.8"/>
<rect x="332.64" y="206.74" width="2.12" height="2.12" fill="#3a3a3a"/>
<text x="342.3" y="210.0" font-size="6.1" text-anchor="start" fill="#111111" stroke="#111111" stroke-width="0.24">ZnO</text>
<line x1="326.7" y1="215.20" x2="340.5" y2="215.20" stroke="#f24a4a" stroke-width="1.0"/>
<circle cx="333.70" cy="215.20" r="1.25" fill="#f03030"/>
<text x="342.3" y="217.4" font-size="6.1" text-anchor="start" fill="#111111" stroke="#111111" stroke-width="0.24">CdS</text>
<line x1="326.7" y1="222.60" x2="340.5" y2="222.60" stroke="#5f9cf2" stroke-width="1.4"/>
<polygon points="333.70,221.10 332.32,223.60 335.07,223.60" fill="#1a6cf0"/>
<text x="342.3" y="224.8" font-size="6.1" text-anchor="start" fill="#111111" stroke="#111111" stroke-width="0.24">In<tspan dy="1.71" font-size="3.78">2</tspan><tspan dy="-1.71" font-size="0.30"> </tspan>S<tspan dy="1.71" font-size="3.78">3</tspan><tspan dy="-1.71" font-size="0.30"> </tspan></text>
<line x1="326.7" y1="232.00" x2="340.5" y2="232.00" stroke="#7fd0a0" stroke-width="1.4"/>
<polygon points="333.70,233.50 332.32,231.00 335.07,231.00" fill="#2fae5f"/>
<text x="342.3" y="234.2" font-size="6.1" text-anchor="start" fill="#111111" stroke="#111111" stroke-width="0.24">SnO<tspan dy="1.71" font-size="3.78">2</tspan><tspan dy="-1.71" font-size="0.30"> </tspan></text>
<line x1="326.7" y1="241.00" x2="340.5" y2="241.00" stroke="#c8a4f2" stroke-width="1.4"/>
<polygon points="333.70,239.44 335.07,241.00 333.70,242.56 332.32,241.00" fill="#b26ef0"/>
<text x="342.3" y="243.2" font-size="6.1" text-anchor="start" fill="#111111" stroke="#111111" stroke-width="0.24">ZnS</text>
<text x="452.4" y="10.0" font-size="10.5" text-anchor="start" fill="#111111" stroke="#111111" stroke-width="0.24">(g)</text>
<polyline points="480.70,63.00 510.00,65.60 540.90,69.60 540.90,55.00 599.20,61.30" fill="none" stroke="#45c07c" stroke-width="1.0" stroke-linejoin="round" />
<polyline points="480.70,63.50 510.00,66.30 540.90,70.60 540.90,73.10 570.00,74.60 599.20,75.90" fill="none" stroke="#444444" stroke-width="1.0" stroke-linejoin="round" />
<polyline points="480.70,64.00 510.00,67.20 540.90,72.60 540.90,82.00 541.60,83.20 544.00,83.70 555.00,84.30 599.20,85.30" fill="none" stroke="#2f80f2" stroke-width="1.1" stroke-linejoin="round" />
<polyline points="480.70,13.40 541.30,15.00 541.30,58.30 599.20,58.80" fill="none" stroke="#f66060" stroke-width="1.1" stroke-linejoin="round" />
<polyline points="480.70,44.00 540.60,46.60 540.60,63.90 599.20,64.60" fill="none" stroke="#c096f4" stroke-width="1.1" stroke-linejoin="round" />
<polyline points="480.7,7.2 599.2,7.2 599.2,100.4" fill="none" stroke="#8e8e8e" stroke-width="0.85"/>
<polyline points="480.7,7.2 480.7,100.4 599.2,100.4" fill="none" stroke="#585858" stroke-width="0.85"/>
<line x1="480.7" y1="90.15" x2="482.5" y2="90.15" stroke="#4a4a4a" stroke-width="0.6"/>
<text x="477.6" y="92.15" font-size="5.8" text-anchor="end" fill="#111111" stroke="#111111" stroke-width="0.24">-0.1</text>
<line x1="480.7" y1="96.65" x2="481.7" y2="96.65" stroke="#4a4a4a" stroke-width="0.5"/>
<line x1="480.7" y1="77.10" x2="482.5" y2="77.10" stroke="#4a4a4a" stroke-width="0.6"/>
<text x="477.6" y="79.1" font-size="5.8" text-anchor="end" fill="#111111" stroke="#111111" stroke-width="0.24">0.0</text>
<line x1="480.7" y1="83.60" x2="481.7" y2="83.60" stroke="#4a4a4a" stroke-width="0.5"/>
<line x1="480.7" y1="64.05" x2="482.5" y2="64.05" stroke="#4a4a4a" stroke-width="0.6"/>
<text x="477.6" y="66.05" font-size="5.8" text-anchor="end" fill="#111111" stroke="#111111" stroke-width="0.24">0.1</text>
<line x1="480.7" y1="70.55" x2="481.7" y2="70.55" stroke="#4a4a4a" stroke-width="0.5"/>
<line x1="480.7" y1="51.00" x2="482.5" y2="51.00" stroke="#4a4a4a" stroke-width="0.6"/>
<text x="477.6" y="53.0" font-size="5.8" text-anchor="end" fill="#111111" stroke="#111111" stroke-width="0.24">0.2</text>
<line x1="480.7" y1="57.50" x2="481.7" y2="57.50" stroke="#4a4a4a" stroke-width="0.5"/>
<line x1="480.7" y1="37.95" x2="482.5" y2="37.95" stroke="#4a4a4a" stroke-width="0.6"/>
<text x="477.6" y="39.95" font-size="5.8" text-anchor="end" fill="#111111" stroke="#111111" stroke-width="0.24">0.3</text>
<line x1="480.7" y1="44.45" x2="481.7" y2="44.45" stroke="#4a4a4a" stroke-width="0.5"/>
<line x1="480.7" y1="24.90" x2="482.5" y2="24.90" stroke="#4a4a4a" stroke-width="0.6"/>
<text x="477.6" y="26.9" font-size="5.8" text-anchor="end" fill="#111111" stroke="#111111" stroke-width="0.24">0.4</text>
<line x1="480.7" y1="31.40" x2="481.7" y2="31.40" stroke="#4a4a4a" stroke-width="0.5"/>
<line x1="480.7" y1="11.85" x2="482.5" y2="11.85" stroke="#4a4a4a" stroke-width="0.6"/>
<text x="477.6" y="13.85" font-size="5.8" text-anchor="end" fill="#111111" stroke="#111111" stroke-width="0.24">0.5</text>
<line x1="480.7" y1="18.35" x2="481.7" y2="18.35" stroke="#4a4a4a" stroke-width="0.5"/>
<line x1="482.90" y1="100.4" x2="482.90" y2="99.4" stroke="#4a4a4a" stroke-width="0.55"/>
<line x1="494.50" y1="100.4" x2="494.50" y2="98.60000000000001" stroke="#4a4a4a" stroke-width="0.55"/>
<text x="494.5" y="108.1" font-size="6.7" text-anchor="middle" fill="#111111" stroke="#111111" stroke-width="0.24">0.596</text>
<line x1="506.10" y1="100.4" x2="506.10" y2="99.4" stroke="#4a4a4a" stroke-width="0.55"/>
<line x1="517.70" y1="100.4" x2="517.70" y2="98.60000000000001" stroke="#4a4a4a" stroke-width="0.55"/>
<text x="517.7" y="108.1" font-size="6.7" text-anchor="middle" fill="#111111" stroke="#111111" stroke-width="0.24">0.598</text>
<line x1="529.30" y1="100.4" x2="529.30" y2="99.4" stroke="#4a4a4a" stroke-width="0.55"/>
<line x1="540.90" y1="100.4" x2="540.90" y2="98.60000000000001" stroke="#4a4a4a" stroke-width="0.55"/>
<text x="540.9" y="108.1" font-size="6.7" text-anchor="middle" fill="#111111" stroke="#111111" stroke-width="0.24">0.600</text>
<line x1="552.50" y1="100.4" x2="552.50" y2="99.4" stroke="#4a4a4a" stroke-width="0.55"/>
<line x1="564.10" y1="100.4" x2="564.10" y2="98.60000000000001" stroke="#4a4a4a" stroke-width="0.55"/>
<text x="564.1" y="108.1" font-size="6.7" text-anchor="middle" fill="#111111" stroke="#111111" stroke-width="0.24">0.602</text>
<line x1="575.70" y1="100.4" x2="575.70" y2="99.4" stroke="#4a4a4a" stroke-width="0.55"/>
<line x1="587.30" y1="100.4" x2="587.30" y2="98.60000000000001" stroke="#4a4a4a" stroke-width="0.55"/>
<text x="587.3" y="108.1" font-size="6.7" text-anchor="middle" fill="#111111" stroke="#111111" stroke-width="0.24">0.604</text>
<line x1="598.90" y1="100.4" x2="598.90" y2="99.4" stroke="#4a4a4a" stroke-width="0.55"/>
<text x="540.1" y="116.2" font-size="6.7" text-anchor="middle" fill="#111111" stroke="#111111" stroke-width="0.24">x(μm)</text>
<text x="461.3" y="51.0" font-size="6.2" text-anchor="middle" fill="#111111" stroke="#111111" stroke-width="0.24" transform="rotate(-90 461.3 51.0)">Energy(eV)</text>
<text x="501.6" y="27.5" font-size="6.5" text-anchor="start" fill="#111111" stroke="#111111" stroke-width="0.24">Band offset</text>
<line x1="524.4" y1="29.1" x2="539.6" y2="32.6" stroke="#222" stroke-width="0.7"/>
<polygon points="540.4,32.8 538.4,33.2 538.8,31.6" fill="#222"/>
<text x="502.4" y="54.6" font-size="8.4" text-anchor="start" fill="#111111" stroke="#111111" stroke-width="0.24">C<tspan dy="2.35" font-size="5.21">2</tspan><tspan dy="-2.35" font-size="0.42"> </tspan>N</text>
<text x="568.5" y="93.3" font-size="8.4" text-anchor="middle" fill="#111111" stroke="#111111" stroke-width="0.24">Window layer</text>
<line x1="483.6" y1="72.00" x2="494.4" y2="72.00" stroke="#444444" stroke-width="1.2"/>
<text x="495.8" y="73.8" font-size="5.1" text-anchor="start" fill="#111111" stroke="#111111" stroke-width="0.24">CdS</text>
<line x1="483.6" y1="78.20" x2="494.4" y2="78.20" stroke="#f66060" stroke-width="1.2"/>
<text x="495.8" y="80.0" font-size="5.1" text-anchor="start" fill="#111111" stroke="#111111" stroke-width="0.24">In<tspan dy="1.43" font-size="3.16">2</tspan><tspan dy="-1.43" font-size="0.26"> </tspan>S<tspan dy="1.43" font-size="3.16">3</tspan><tspan dy="-1.43" font-size="0.26"> </tspan></text>
<line x1="483.6" y1="84.40" x2="494.4" y2="84.40" stroke="#2f80f2" stroke-width="1.2"/>
<text x="495.8" y="86.2" font-size="5.1" text-anchor="start" fill="#111111" stroke="#111111" stroke-width="0.24">SnO<tspan dy="1.43" font-size="3.16">2</tspan><tspan dy="-1.43" font-size="0.26"> </tspan></text>
<line x1="483.6" y1="90.60" x2="494.4" y2="90.60" stroke="#45c07c" stroke-width="1.2"/>
<text x="495.8" y="92.4" font-size="5.1" text-anchor="start" fill="#111111" stroke="#111111" stroke-width="0.24">ZnS</text>
<line x1="483.6" y1="96.80" x2="494.4" y2="96.80" stroke="#c096f4" stroke-width="1.2"/>
<text x="495.8" y="98.6" font-size="5.1" text-anchor="start" fill="#111111" stroke="#111111" stroke-width="0.24">ZnO</text>
<rect x="546.5" y="9.7" width="51.39999999999998" height="35.3" fill="#fff" stroke="#9a9a9a" stroke-width="0.55"/>
<polyline points="548.40,23.40 565.00,25.90 580.00,28.60 590.00,30.60 595.40,31.90 597.20,29.40" fill="none" stroke="#b9d96a" stroke-width="0.6" stroke-linejoin="round" />
<polyline points="548.40,23.75 565.00,26.25 580.00,28.95 590.00,30.95 595.40,32.25 596.40,33.00" fill="none" stroke="#f3a33a" stroke-width="0.7" stroke-linejoin="round" />
<polyline points="596.40,33.00 596.40,44.50" fill="none" stroke="#f3a33a" stroke-width="0.7" stroke-linejoin="round" stroke-dasharray="2.2,0.5"/>
<polyline points="548.40,23.20 565.00,25.70 580.00,28.40 590.00,30.40 595.40,31.70 596.60,32.60" fill="none" stroke="#45c3a4" stroke-width="0.6" stroke-linejoin="round" />
<polyline points="548.40,12.80 565.00,15.30 580.00,17.90 590.00,19.80 595.40,21.00 596.80,22.40" fill="none" stroke="#3aa7c9" stroke-width="0.6" stroke-linejoin="round" />
<polyline points="548.40,12.50 565.00,15.00 580.00,17.60 590.00,19.50 595.40,20.70 597.00,19.10 597.00,17.60" fill="none" stroke="#f0708a" stroke-width="0.6" stroke-linejoin="round" />
<polyline points="548.40,12.35 565.00,14.85 580.00,17.45 590.00,19.35 595.40,20.55 597.00,22.30" fill="none" stroke="#a574e6" stroke-width="0.7" stroke-linejoin="round" />
<text x="548.5" y="49.1" font-size="3.4" text-anchor="middle" fill="#333" stroke="#333" stroke-width="0.12">0.0</text>
<line x1="549.10" y1="45.0" x2="549.10" y2="44.1" stroke="#9a9a9a" stroke-width="0.4"/>
<text x="556.6" y="49.1" font-size="3.4" text-anchor="middle" fill="#333" stroke="#333" stroke-width="0.12">0.1</text>
<line x1="557.20" y1="45.0" x2="557.20" y2="44.1" stroke="#9a9a9a" stroke-width="0.4"/>
<text x="564.7" y="49.1" font-size="3.4" text-anchor="middle" fill="#333" stroke="#333" stroke-width="0.12">0.2</text>
<line x1="565.30" y1="45.0" x2="565.30" y2="44.1" stroke="#9a9a9a" stroke-width="0.4"/>
<text x="572.8" y="49.1" font-size="3.4" text-anchor="middle" fill="#333" stroke="#333" stroke-width="0.12">0.3</text>
<line x1="573.40" y1="45.0" x2="573.40" y2="44.1" stroke="#9a9a9a" stroke-width="0.4"/>
<text x="580.9" y="49.1" font-size="3.4" text-anchor="middle" fill="#333" stroke="#333" stroke-width="0.12">0.4</text>
<line x1="581.50" y1="45.0" x2="581.50" y2="44.1" stroke="#9a9a9a" stroke-width="0.4"/>
<text x="589.0" y="49.1" font-size="3.4" text-anchor="middle" fill="#333" stroke="#333" stroke-width="0.12">0.5</text>
<line x1="589.60" y1="45.0" x2="589.60" y2="44.1" stroke="#9a9a9a" stroke-width="0.4"/>
<text x="597.1" y="49.1" font-size="3.4" text-anchor="middle" fill="#333" stroke="#333" stroke-width="0.12">0.6</text>
<line x1="597.70" y1="45.0" x2="597.70" y2="44.1" stroke="#9a9a9a" stroke-width="0.4"/>
<text x="545.6" y="11.8" font-size="3.4" text-anchor="end" fill="#333" stroke="#333" stroke-width="0.12">2</text>
<line x1="546.5" y1="10.60" x2="547.4" y2="10.60" stroke="#9a9a9a" stroke-width="0.4"/>
<text x="545.6" y="17.65" font-size="3.4" text-anchor="end" fill="#333" stroke="#333" stroke-width="0.12">1</text>
<line x1="546.5" y1="16.45" x2="547.4" y2="16.45" stroke="#9a9a9a" stroke-width="0.4"/>
<text x="545.6" y="23.5" font-size="3.4" text-anchor="end" fill="#333" stroke="#333" stroke-width="0.12">0</text>
<line x1="546.5" y1="22.30" x2="547.4" y2="22.30" stroke="#9a9a9a" stroke-width="0.4"/>
<text x="545.6" y="29.35" font-size="3.4" text-anchor="end" fill="#333" stroke="#333" stroke-width="0.12">-1</text>
<line x1="546.5" y1="28.15" x2="547.4" y2="28.15" stroke="#9a9a9a" stroke-width="0.4"/>
<text x="545.6" y="35.2" font-size="3.4" text-anchor="end" fill="#333" stroke="#333" stroke-width="0.12">-2</text>
<line x1="546.5" y1="34.00" x2="547.4" y2="34.00" stroke="#9a9a9a" stroke-width="0.4"/>
<text x="545.6" y="41.05" font-size="3.4" text-anchor="end" fill="#333" stroke="#333" stroke-width="0.12">-3</text>
<line x1="546.5" y1="39.85" x2="547.4" y2="39.85" stroke="#9a9a9a" stroke-width="0.4"/>
<text x="459.8" y="162.3" font-size="10.5" text-anchor="start" fill="#111111" stroke="#111111" stroke-width="0.24">(h)</text>
<line x1="472.6" y1="167.6" x2="530.8" y2="167.6" stroke="#88d9a2" stroke-width="1.45"/>
<line x1="472.6" y1="197.3" x2="530.8" y2="197.3" stroke="#88d9a2" stroke-width="1.45"/>
<line x1="472.2" y1="227.9" x2="530.7" y2="227.9" stroke="#88d9a2" stroke-width="1.45"/>
<line x1="475.2" y1="264.4" x2="533.5" y2="264.4" stroke="#88d9a2" stroke-width="1.45"/>
<line x1="539.9" y1="176.6" x2="597.8" y2="176.6" stroke="#93aee8" stroke-width="1.45"/>
<line x1="539.9" y1="205.7" x2="598.2" y2="205.7" stroke="#93aee8" stroke-width="1.45"/>
<line x1="544.9" y1="234.8" x2="601" y2="234.8" stroke="#93aee8" stroke-width="1.45"/>
<line x1="543.8" y1="257.3" x2="601" y2="257.3" stroke="#93aee8" stroke-width="1.45"/>
<ellipse cx="483.2" cy="159.5" rx="6.15" ry="5.3" fill="#fff" stroke="#3c58ad" stroke-width="0.85"/>
<line x1="479.8" y1="159.5" x2="486.59999999999997" y2="159.5" stroke="#4772d6" stroke-width="1.25"/>
<ellipse cx="499.2" cy="159.5" rx="6.15" ry="5.3" fill="#fff" stroke="#3c58ad" stroke-width="0.85"/>
<line x1="495.8" y1="159.5" x2="502.59999999999997" y2="159.5" stroke="#4772d6" stroke-width="1.25"/>
<ellipse cx="517.3" cy="159.5" rx="6.15" ry="5.3" fill="#fff" stroke="#3c58ad" stroke-width="0.85"/>
<line x1="513.9" y1="159.5" x2="520.6999999999999" y2="159.5" stroke="#4772d6" stroke-width="1.25"/>
<ellipse cx="499.8" cy="191.1" rx="6.15" ry="5.3" fill="#fff" stroke="#3c58ad" stroke-width="0.85"/>
<line x1="496.40000000000003" y1="191.1" x2="503.2" y2="191.1" stroke="#4772d6" stroke-width="1.25"/>
<line x1="499.8" y1="187.79999999999998" x2="499.8" y2="194.4" stroke="#4772d6" stroke-width="1.25"/>
<ellipse cx="544.55" cy="162.0" rx="6.15" ry="5.3" fill="#fff" stroke="#3c58ad" stroke-width="0.85"/>
<line x1="541.15" y1="162.0" x2="547.9499999999999" y2="162.0" stroke="#4772d6" stroke-width="1.25"/>
<ellipse cx="564.6" cy="169.2" rx="6.15" ry="5.3" fill="#fff" stroke="#3c58ad" stroke-width="0.85"/>
<line x1="561.2" y1="169.2" x2="568.0" y2="169.2" stroke="#4772d6" stroke-width="1.25"/>
<ellipse cx="540.5" cy="190.2" rx="6.15" ry="5.3" fill="#fff" stroke="#3c58ad" stroke-width="0.85"/>
<line x1="537.1" y1="190.2" x2="543.9" y2="190.2" stroke="#4772d6" stroke-width="1.25"/>
<line x1="540.5" y1="186.89999999999998" x2="540.5" y2="193.5" stroke="#4772d6" stroke-width="1.25"/>
<ellipse cx="553.9" cy="199.1" rx="6.15" ry="5.3" fill="#fff" stroke="#3c58ad" stroke-width="0.85"/>
<line x1="550.5" y1="199.1" x2="557.3" y2="199.1" stroke="#4772d6" stroke-width="1.25"/>
<line x1="553.9" y1="195.79999999999998" x2="553.9" y2="202.4" stroke="#4772d6" stroke-width="1.25"/>
<ellipse cx="568.6" cy="199.1" rx="6.15" ry="5.3" fill="#fff" stroke="#3c58ad" stroke-width="0.85"/>
<line x1="565.2" y1="199.1" x2="572.0" y2="199.1" stroke="#4772d6" stroke-width="1.25"/>
<line x1="568.6" y1="195.79999999999998" x2="568.6" y2="202.4" stroke="#4772d6" stroke-width="1.25"/>
<ellipse cx="584.1" cy="199.1" rx="6.15" ry="5.3" fill="#fff" stroke="#3c58ad" stroke-width="0.85"/>
<line x1="580.7" y1="199.1" x2="587.5" y2="199.1" stroke="#4772d6" stroke-width="1.25"/>
<line x1="584.1" y1="195.79999999999998" x2="584.1" y2="202.4" stroke="#4772d6" stroke-width="1.25"/>
<ellipse cx="485.9" cy="219.3" rx="6.15" ry="5.3" fill="#fff" stroke="#3c58ad" stroke-width="0.85"/>
<line x1="482.5" y1="219.3" x2="489.29999999999995" y2="219.3" stroke="#4772d6" stroke-width="1.25"/>
<ellipse cx="503.5" cy="219.3" rx="6.15" ry="5.3" fill="#fff" stroke="#3c58ad" stroke-width="0.85"/>
<line x1="500.1" y1="219.3" x2="506.9" y2="219.3" stroke="#4772d6" stroke-width="1.25"/>
<ellipse cx="520.6" cy="219.3" rx="6.15" ry="5.3" fill="#fff" stroke="#3c58ad" stroke-width="0.85"/>
<line x1="517.2" y1="219.3" x2="524.0" y2="219.3" stroke="#4772d6" stroke-width="1.25"/>
<ellipse cx="485.8" cy="257.0" rx="6.15" ry="5.3" fill="#fff" stroke="#3c58ad" stroke-width="0.85"/>
<line x1="482.40000000000003" y1="257.0" x2="489.2" y2="257.0" stroke="#4772d6" stroke-width="1.25"/>
<line x1="485.8" y1="253.7" x2="485.8" y2="260.3" stroke="#4772d6" stroke-width="1.25"/>
<ellipse cx="504.5" cy="256.4" rx="6.15" ry="5.3" fill="#fff" stroke="#3c58ad" stroke-width="0.85"/>
<line x1="501.1" y1="256.4" x2="507.9" y2="256.4" stroke="#4772d6" stroke-width="1.25"/>
<line x1="504.5" y1="253.09999999999997" x2="504.5" y2="259.7" stroke="#4772d6" stroke-width="1.25"/>
<ellipse cx="522.2" cy="257.4" rx="6.15" ry="5.3" fill="#fff" stroke="#3c58ad" stroke-width="0.85"/>
<line x1="518.8000000000001" y1="257.4" x2="525.6" y2="257.4" stroke="#4772d6" stroke-width="1.25"/>
<line x1="522.2" y1="254.09999999999997" x2="522.2" y2="260.7" stroke="#4772d6" stroke-width="1.25"/>
<ellipse cx="543.8" cy="219.9" rx="6.15" ry="5.3" fill="#fff" stroke="#3c58ad" stroke-width="0.85"/>
<line x1="540.4" y1="219.9" x2="547.1999999999999" y2="219.9" stroke="#4772d6" stroke-width="1.25"/>
<ellipse cx="564.4" cy="227.2" rx="6.15" ry="5.3" fill="#fff" stroke="#3c58ad" stroke-width="0.85"/>
<line x1="561.0" y1="227.2" x2="567.8" y2="227.2" stroke="#4772d6" stroke-width="1.25"/>
<ellipse cx="536.9" cy="250.2" rx="6.15" ry="5.3" fill="#fff" stroke="#3c58ad" stroke-width="0.85"/>
<line x1="533.5" y1="250.2" x2="540.3" y2="250.2" stroke="#4772d6" stroke-width="1.25"/>
<line x1="536.9" y1="246.89999999999998" x2="536.9" y2="253.5" stroke="#4772d6" stroke-width="1.25"/>
<ellipse cx="565.6" cy="248.6" rx="6.15" ry="5.3" fill="#fff" stroke="#3c58ad" stroke-width="0.85"/>
<line x1="562.2" y1="248.6" x2="569.0" y2="248.6" stroke="#4772d6" stroke-width="1.25"/>
<line x1="565.6" y1="245.29999999999998" x2="565.6" y2="251.9" stroke="#4772d6" stroke-width="1.25"/>
<text x="497.0" y="182.9" font-size="10.8" text-anchor="middle" fill="#111111" stroke="#111111" stroke-width="0.24">Type-II</text>
<text x="499.5" y="243.8" font-size="10.8" text-anchor="middle" fill="#111111" stroke="#111111" stroke-width="0.24">Type-I</text>
<path d="M531.1,162.2 C536,162.6 538.5,164.5 540.7,170.3 C541.5,171.8 543,172.4 544.5,172.5" fill="none" stroke="#9db8ee" stroke-width="0.7"/>
<polygon points="0,0 -3.0,-1.4 -3.0,1.4" fill="#3f6fe0" transform="translate(547.2 172.6) rotate(0)"/>
<path d="M545.8,202.6 C541,202.4 538,199 535.3,196.4" fill="none" stroke="#9db8ee" stroke-width="0.7"/>
<polygon points="0,0 -3.0,-1.4 -3.0,1.4" fill="#3f6fe0" transform="translate(531.8 195.5) rotate(190)"/>
<path d="M530.7,222.9 C536,223.4 538.5,226 540.5,231.5 C541.2,233 542.5,233.6 543.5,233.7" fill="none" stroke="#9db8ee" stroke-width="0.7"/>
<polygon points="0,0 -3.0,-1.4 -3.0,1.4" fill="#3f6fe0" transform="translate(546.2 233.8) rotate(0)"/>
<path d="M533.5,261.2 C538,261 541,258 542.5,256" fill="none" stroke="#9db8ee" stroke-width="0.7"/>
<polygon points="0,0 -3.0,-1.4 -3.0,1.4" fill="#3f6fe0" transform="translate(544.3 253.8) rotate(-50)"/>
</svg></body></html>
